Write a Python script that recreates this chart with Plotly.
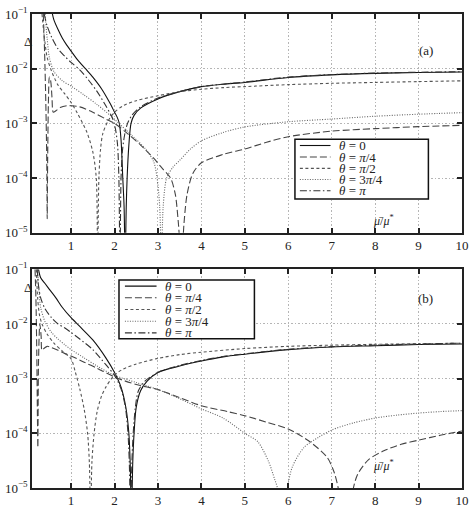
import plotly.graph_objects as go

# ---------------- data: panel (a) ----------------
a_x_0 = [0.57, 0.6, 0.7, 0.8, 0.9, 1.0, 1.15, 1.33, 1.5, 1.7, 1.9, 2.0, 2.06, 2.11, 2.15, 2.19, 2.22, 2.245, 2.27, 2.29, 2.33, 2.38, 2.45, 2.6, 3.0, 3.5, 4.0, 4.5, 5, 6, 7, 8, 9, 10]
a_y_0 = [1e-1, 8e-2, 5.2e-2, 3.6e-2, 2.7e-2, 2.1e-2, 1.45e-2, 1e-2, 7e-3, 4.3e-3, 2.3e-3, 1.6e-3, 1.3e-3, 1e-3, 5e-4, 1e-4, 3e-5, 3e-6, 3e-5, 1e-4, 4e-4, 1e-3, 1.4e-3, 1.9e-3, 2.8e-3, 3.8e-3, 4.7e-3, 5.2e-3, 5.6e-3, 6.9e-3, 7.7e-3, 8.2e-3, 8.5e-3, 8.7e-3]

a_x_pi4 = [0.36, 0.39, 0.42, 0.44, 0.45, 0.46, 0.48, 0.5, 0.53, 0.56, 0.59, 0.65, 0.75, 0.9, 1.0, 1.2, 1.5, 1.8, 2.0, 2.3, 2.6, 2.9, 3.1, 3.29, 3.4, 3.47, 3.54, 3.6, 3.67, 3.8, 4.0, 4.5, 5, 5.5, 6, 7, 8, 9, 10]
a_y_pi4 = [1e-1, 2e-2, 2e-3, 2e-4, 1.8e-5, 2e-4, 3e-3, 7e-3, 6e-3, 3e-3, 1.6e-3, 1.7e-3, 1.95e-3, 2.1e-3, 2.1e-3, 2.0e-3, 1.6e-3, 1.2e-3, 1.0e-3, 6.5e-4, 4e-4, 2.3e-4, 1.5e-4, 1e-4, 5e-5, 1.5e-5, 3e-6, 1.5e-5, 5e-5, 1.2e-4, 1.9e-4, 2.7e-4, 3.4e-4, 4.5e-4, 5.7e-4, 7.2e-4, 8e-4, 8.7e-4, 9.2e-4]

a_x_pi2 = [0.33, 0.38, 0.45, 0.55, 0.7, 0.85, 1.0, 1.15, 1.36, 1.5, 1.58, 1.61, 1.64, 1.68, 1.73, 1.85, 2.0, 2.2, 2.5, 3.0, 3.5, 4.0, 4.5, 5, 6, 7, 8, 9, 10]
a_y_pi2 = [1e-1, 4e-2, 1.6e-2, 9e-3, 5e-3, 3.5e-3, 2.4e-3, 1.5e-3, 7e-4, 3e-4, 1e-4, 3e-6, 1e-4, 3.5e-4, 6.5e-4, 1.1e-3, 1.6e-3, 2.1e-3, 2.6e-3, 3.2e-3, 3.8e-3, 4.2e-3, 4.5e-3, 4.7e-3, 5.1e-3, 5.4e-3, 5.6e-3, 5.8e-3, 6.0e-3]

a_x_3pi4 = [0.4, 0.45, 0.5, 0.6, 0.8, 1.0, 1.3, 1.6, 1.9, 2.1, 2.4, 2.7, 2.9, 2.98, 3.04, 3.08, 3.12, 3.2, 3.35, 3.5, 3.75, 4.0, 4.5, 5, 6, 7, 8, 9, 10]
a_y_3pi4 = [1e-1, 3.5e-2, 1.6e-2, 9e-3, 6e-3, 4.8e-3, 3.3e-3, 2.2e-3, 1.4e-3, 1.0e-3, 6e-4, 3.5e-4, 2.0e-4, 1e-4, 3e-5, 3e-6, 3e-5, 1e-4, 1.6e-4, 2.1e-4, 3.4e-4, 4.8e-4, 6.8e-4, 8.6e-4, 1.07e-3, 1.2e-3, 1.35e-3, 1.47e-3, 1.57e-3]

a_x_pi = [0.38, 0.45, 0.55, 0.7, 0.85, 1.0, 1.2, 1.4, 1.6, 1.8, 1.95, 2.02, 2.07, 2.1, 2.125, 2.15, 2.18, 2.23, 2.3, 2.4, 2.6, 3.0, 3.5, 4, 5, 6, 7, 8, 9, 10]
a_y_pi = [1e-1, 6e-2, 3.8e-2, 2.3e-2, 1.7e-2, 1.3e-2, 9.5e-3, 6.2e-3, 3.8e-3, 2.1e-3, 1.25e-3, 8e-4, 4e-4, 1e-4, 3e-6, 1e-4, 3e-4, 6e-4, 1.0e-3, 1.4e-3, 2.0e-3, 2.9e-3, 3.8e-3, 4.7e-3, 5.7e-3, 7e-3, 7.8e-3, 8.3e-3, 8.6e-3, 8.8e-3]

# ---------------- data: panel (b) ----------------
b_x_0 = [0.25, 0.3, 0.4, 0.5, 0.65, 0.8, 1.0, 1.2, 1.5, 1.8, 2.0, 2.15, 2.26, 2.33, 2.36, 2.39, 2.42, 2.45, 2.5, 2.6, 2.75, 3.0, 3.5, 4.0, 4.5, 5, 6, 7, 8, 9, 10]
b_y_0 = [1e-1, 7e-2, 5.5e-2, 4.3e-2, 3e-2, 2e-2, 1.3e-2, 9e-3, 5.1e-3, 2.4e-3, 1.3e-3, 7e-4, 3e-4, 1e-4, 3e-5, 3e-6, 3e-5, 1e-4, 3e-4, 6e-4, 9e-4, 1.3e-3, 1.7e-3, 2.1e-3, 2.5e-3, 2.8e-3, 3.4e-3, 3.8e-3, 4.0e-3, 4.2e-3, 4.3e-3]

b_x_pi4 = [0.17, 0.19, 0.21, 0.225, 0.235, 0.25, 0.28, 0.31, 0.33, 0.38, 0.45, 0.55, 0.7, 0.85, 1.0, 1.3, 1.6, 2.0, 2.5, 3.0, 3.5, 4.0, 4.6, 5.0, 5.5, 6.0, 6.5, 6.9, 7.05, 7.15, 7.33, 7.5, 7.6, 7.85, 8.2, 8.6, 9.0, 9.5, 10]
b_y_pi4 = [1e-1, 3e-2, 3e-3, 2e-4, 5.5e-5, 2e-3, 1e-2, 6e-3, 3.3e-3, 3.6e-3, 3.9e-3, 3.7e-3, 3.3e-3, 2.9e-3, 2.6e-3, 2.0e-3, 1.55e-3, 1.07e-3, 7.8e-4, 6.3e-4, 4.5e-4, 3.2e-4, 2.5e-4, 2.1e-4, 1.6e-4, 1.2e-4, 7e-5, 3.6e-5, 2e-5, 1e-5, 1e-6, 1e-5, 1.8e-5, 3.3e-5, 4.8e-5, 6.3e-5, 7.5e-5, 9.2e-5, 1.1e-4]

b_x_pi2 = [0.2, 0.23, 0.27, 0.33, 0.45, 0.6, 0.8, 1.0, 1.1, 1.2, 1.3, 1.38, 1.42, 1.45, 1.48, 1.53, 1.6, 1.7, 1.8, 1.93, 2.05, 2.2, 2.5, 3.0, 3.5, 4.0, 5, 6, 7, 8, 9, 10]
b_y_pi2 = [1e-1, 3e-2, 1.5e-2, 1e-2, 6.5e-3, 4.5e-3, 3.2e-3, 2.3e-3, 1.3e-3, 6.5e-4, 2.8e-4, 1e-4, 3e-5, 3e-6, 3e-5, 1e-4, 2.5e-4, 4.8e-4, 7e-4, 1e-3, 1.25e-3, 1.5e-3, 1.85e-3, 2.35e-3, 2.75e-3, 3.05e-3, 3.55e-3, 3.9e-3, 4.1e-3, 4.25e-3, 4.35e-3, 4.45e-3]

b_x_3pi4 = [0.23, 0.26, 0.3, 0.4, 0.55, 0.7, 0.85, 1.0, 1.3, 1.6, 2.0, 2.5, 3.0, 3.5, 4.0, 4.5, 5.0, 5.3, 5.55, 5.68, 5.75, 5.86, 5.98, 6.1, 6.36, 6.7, 7.0, 7.5, 8.0, 8.5, 9.0, 9.5, 10]
b_y_3pi4 = [1e-1, 4e-2, 2e-2, 1.1e-2, 7e-3, 5.3e-3, 4.2e-3, 3.4e-3, 2.4e-3, 1.7e-3, 1.15e-3, 8.5e-4, 6.3e-4, 4.3e-4, 2.8e-4, 1.9e-4, 1.0e-4, 7e-5, 3e-5, 1.5e-5, 1e-5, 1e-6, 1e-5, 2.5e-5, 5.5e-5, 8.5e-5, 1.15e-4, 1.55e-4, 1.9e-4, 2.15e-4, 2.35e-4, 2.5e-4, 2.6e-4]

b_x_pi = [0.22, 0.25, 0.3, 0.4, 0.55, 0.7, 0.85, 1.0, 1.2, 1.5, 1.8, 2.0, 2.15, 2.25, 2.31, 2.34, 2.37, 2.4, 2.43, 2.48, 2.55, 2.7, 3.0, 3.5, 4.0, 4.5, 5, 6, 7, 8, 9, 10]
b_y_pi = [1e-1, 5e-2, 3e-2, 1.9e-2, 1.3e-2, 1e-2, 8.5e-3, 7e-3, 5.3e-3, 3.4e-3, 1.8e-3, 1.15e-3, 6.5e-4, 3e-4, 1e-4, 3e-5, 3e-6, 3e-5, 1e-4, 3e-4, 6e-4, 9e-4, 1.3e-3, 1.75e-3, 2.15e-3, 2.55e-3, 2.85e-3, 3.45e-3, 3.85e-3, 4.1e-3, 4.3e-3, 4.45e-3]

legend_names = ["<i>θ</i> = 0", "<i>θ</i> = <i>π</i>/4", "<i>θ</i> = <i>π</i>/2", "<i>θ</i> = 3<i>π</i>/4", "<i>θ</i> = <i>π</i>"]
x_ticks = [1, 2, 3, 4, 5, 6, 7, 8, 9, 10]
x_tick_text = ["1", "2", "3", "4", "5", "6", "7", "8", "9", "10"]
y_ticks = [1e-5, 1e-4, 1e-3, 1e-2, 1e-1]
y_tick_text = ["10<sup>−5</sup>", "10<sup>−4</sup>", "10<sup>−3</sup>", "10<sup>−2</sup>", "10<sup>−1</sup>"]

styles = [
    dict(color="#111111", width=1.1, dash="solid"),
    dict(color="#444444", width=1.1, dash="7px,3px"),
    dict(color="#555555", width=1.1, dash="3px,2.5px"),
    dict(color="#666666", width=1.1, dash="1px,1.5px"),
    dict(color="#333333", width=1.1, dash="7px,2.5px,1.5px,2.5px"),
]

panel_a = [(a_x_0, a_y_0), (a_x_pi4, a_y_pi4), (a_x_pi2, a_y_pi2), (a_x_3pi4, a_y_3pi4), (a_x_pi, a_y_pi)]
panel_b = [(b_x_0, b_y_0), (b_x_pi4, b_y_pi4), (b_x_pi2, b_y_pi2), (b_x_3pi4, b_y_3pi4), (b_x_pi, b_y_pi)]

fig = go.Figure()
for i, (xs, ys) in enumerate(panel_a):
    fig.add_trace(go.Scatter(x=xs, y=ys, mode="lines", line=dict(shape="spline", smoothing=0.8, **styles[i]),
                             name=legend_names[i], xaxis="x", yaxis="y", showlegend=False))
for i, (xs, ys) in enumerate(panel_b):
    fig.add_trace(go.Scatter(x=xs, y=ys, mode="lines", line=dict(shape="spline", smoothing=0.8, **styles[i]),
                             name=legend_names[i], xaxis="x2", yaxis="y2", showlegend=False))

FONT = "Liberation Serif"
TXT = "#222222"
xcommon = dict(range=[0.1, 10], tickvals=x_ticks, ticktext=x_tick_text, ticks="inside", ticklen=5,
               tickwidth=1.5, tickcolor="#222", showline=True, linecolor="#222", linewidth=1.5,
               mirror="ticks", showgrid=True, gridcolor="#b5b5b5", griddash="1.5px,2px", gridwidth=1,
               zeroline=False, tickfont=dict(family=FONT, size=13, color=TXT))
ycommon = dict(type="log", range=[-5, -1], tickvals=y_ticks, ticktext=y_tick_text, ticks="inside",
               ticklen=5, tickwidth=1.5, tickcolor="#222", showline=True, linecolor="#222",
               linewidth=1.5, mirror="ticks", showgrid=True, gridcolor="#b5b5b5", griddash="1.5px,2px",
               gridwidth=1, zeroline=False, tickfont=dict(family=FONT, size=13, color=TXT))

# layout geometry (plot-area pixels -> paper fractions)
L, R, T, B = 32, 7, 5, 16
PW, PH = 474 - L - R, 513 - T - B
def px_x(p):
    return (p - L) / PW
def px_y(p):
    return (513 - B - p) / PH

top_dom = [px_y(232), 1.0]
bot_dom = [0.0, px_y(270)]

shapes = []
annotations = []

def add_legend(box, sample_x, text_x, rows):
    shapes.append(dict(type="rect", xref="paper", yref="paper",
                       x0=px_x(box[0]), x1=px_x(box[1]), y0=px_y(box[3]), y1=px_y(box[2]),
                       line=dict(color="#111", width=1.5), fillcolor="white", layer="above"))
    for i, ry in enumerate(rows):
        st = styles[i]
        shapes.append(dict(type="line", xref="paper", yref="paper",
                           x0=px_x(sample_x[0]), x1=px_x(sample_x[1]), y0=px_y(ry), y1=px_y(ry),
                           line=dict(color=st["color"], width=st["width"], dash=st["dash"]), layer="above"))
        annotations.append(dict(text=legend_names[i], x=px_x(text_x), y=px_y(ry), xref="paper", yref="paper",
                                xanchor="left", yanchor="middle", align="left", showarrow=False,
                                font=dict(family=FONT, size=13, color=TXT)))

add_legend((298, 433, 135, 197), (303, 334), 341, [141.5, 153.5, 165.2, 176.8, 188.4])
add_legend((120, 257, 281, 342), (126, 158), 165, [287.5, 299.5, 311.7, 323.9, 336])

def note(text, px, py, size=13):
    annotations.append(dict(text=text, x=px_x(px), y=px_y(py), xref="paper", yref="paper",
                            showarrow=False, font=dict(family=FONT, size=size, color=TXT)))

note("Δ", 22, 24)
note("Δ", 22, 289)
note("(a)", 440, 33)
note("(b)", 440, 300)
note("<i>μ̄</i>/<i>μ</i><sup>*</sup>", 400, 219, 12)
note("<i>μ̄</i>/<i>μ</i><sup>*</sup>", 400, 484, 12)

fig.update_layout(
    width=474, height=513,
    margin=dict(l=L, r=R, t=T, b=B),
    paper_bgcolor="white", plot_bgcolor="white",
    xaxis=dict(domain=[0, 1], anchor="y", **xcommon),
    yaxis=dict(domain=top_dom, anchor="x", **ycommon),
    xaxis2=dict(domain=[0, 1], anchor="y2", **xcommon),
    yaxis2=dict(domain=bot_dom, anchor="x2", **ycommon),
    showlegend=False,
    shapes=shapes,
    annotations=annotations,
)

fig.write_html("out.html", config={"displayModeBar": False},
               post_script="document.body.style.margin='0';")
